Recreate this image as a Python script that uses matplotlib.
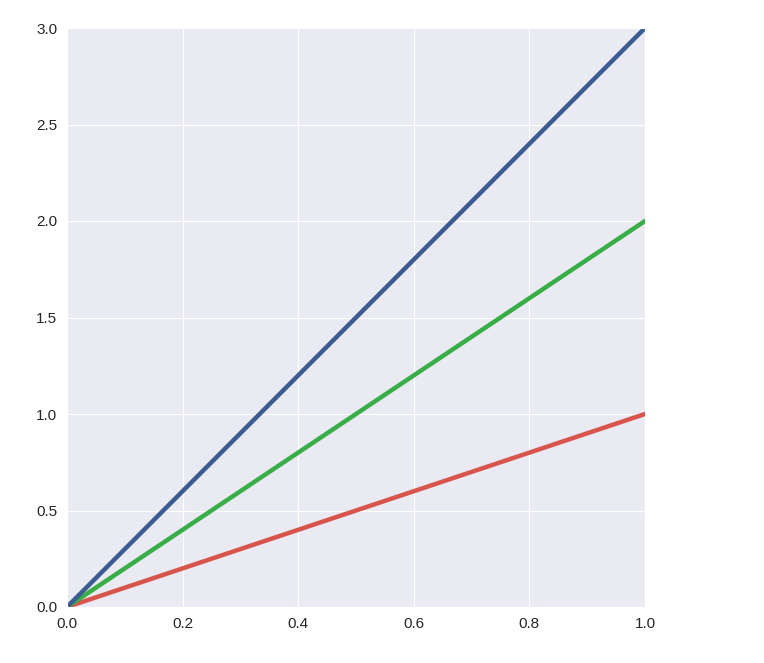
import matplotlib
matplotlib.use("Agg")
import matplotlib.pyplot as plt
import seaborn as sns

sns.set_style("darkgrid")
plt.rcParams['font.family'] = ['Liberation Sans', 'DejaVu Sans']

x = [0.0, 1.0]
red = [0.0, 1.0]
green = [0.0, 2.0]
blue = [0.0, 3.0]
colors = ["#d9544d", "#39ad48", "#3b5b92"]

fig = plt.figure(figsize=(7.64, 6.63), dpi=100)
ax = fig.add_axes([67/764, 56/663, (645-67)/764, (607-28)/663])
for y, c in zip([red, green, blue], colors):
    ax.plot(x, y, color=c, linewidth=3.2)
ax.set_xlim(0, 1)
ax.set_ylim(0, 3)
ax.set_xticks([0, 0.2, 0.4, 0.6, 0.8, 1.0])
ax.set_yticks([0, 0.5, 1.0, 1.5, 2.0, 2.5, 3.0])
ax.tick_params(labelsize=11, colors="#262626")
fig.savefig("out.png", dpi=100)
